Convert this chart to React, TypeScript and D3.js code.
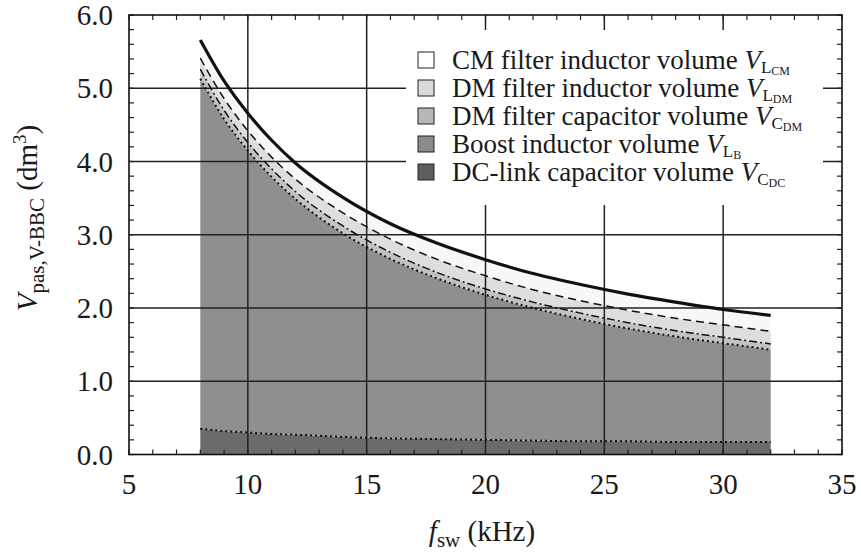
import React from 'react'
import * as d3 from 'd3'

// switching frequency (kHz) and the volume of each passive part (dm^3)
const FREQ = [8, 9, 10, 11, 12, 14, 16, 18, 20, 22, 24, 26, 28, 30, 32]
const V_CDC = [0.35, 0.32, 0.30, 0.28, 0.27, 0.24, 0.22, 0.21, 0.20, 0.19, 0.18, 0.18, 0.17, 0.17, 0.17]
const V_LB = [4.78, 4.26, 3.85, 3.51, 3.22, 2.78, 2.45, 2.19, 1.98, 1.81, 1.67, 1.54, 1.44, 1.35, 1.26]
const V_CDM = [0.13, 0.12, 0.11, 0.11, 0.10, 0.10, 0.09, 0.08, 0.08, 0.08, 0.08, 0.08, 0.08, 0.08, 0.08]
const V_LDM = [0.15, 0.16, 0.16, 0.16, 0.17, 0.18, 0.18, 0.18, 0.18, 0.17, 0.17, 0.17, 0.17, 0.17, 0.17]
const V_LCM = [0.25, 0.24, 0.24, 0.23, 0.22, 0.21, 0.21, 0.22, 0.22, 0.22, 0.22, 0.22, 0.22, 0.21, 0.22]

const X_TICKS = [5, 10, 15, 20, 25, 30, 35]
const Y_TICKS = [0, 1, 2, 3, 4, 5, 6]

// bottom to top of the stack
const LAYERS = [
  { key: 'cdc', values: V_CDC, fill: '#6b6b6b', swatch: '#5e5e5e', dash: '2,3', width: 2, text: 'DC-link capacitor volume ', sub: 'C', subsub: 'DC' },
  { key: 'lb', values: V_LB, fill: '#8f8f8f', swatch: '#8a8a8a', dash: '2,3', width: 2, text: 'Boost inductor volume ', sub: 'L', subsub: 'B' },
  { key: 'cdm', values: V_CDM, fill: '#c2c2c2', swatch: '#b8b8b8', dash: '8,3,2,3', width: 1.5, text: 'DM filter capacitor volume ', sub: 'C', subsub: 'DM' },
  { key: 'ldm', values: V_LDM, fill: '#dedede', swatch: '#dadada', dash: '8,5', width: 1.5, text: 'DM filter inductor volume ', sub: 'L', subsub: 'DM' },
  { key: 'lcm', values: V_LCM, fill: '#f8f8f8', swatch: '#ffffff', dash: '', width: 3.2, text: 'CM filter inductor volume ', sub: 'L', subsub: 'CM' }
]

const W = 861
const H = 555
const M = { left: 129, right: 842, top: 15, bottom: 454.5 }
const FONT = '"Times New Roman", "Liberation Serif", Times, "DejaVu Serif", serif'
const INK = '#1a1a1a'

export default function App() {
  const x = d3.scaleLinear().domain([5, 35]).range([M.left, M.right])
  const y = d3.scaleLinear().domain([0, 6]).range([M.bottom, M.top])

  const rows = FREQ.map((f, i) => {
    const r: Record<string, number> = { f }
    LAYERS.forEach(l => { r[l.key] = l.values[i] })
    return r
  })
  const stacked = d3.stack<Record<string, number>>().keys(LAYERS.map(l => l.key))(rows)

  const area = d3.area<d3.SeriesPoint<Record<string, number>>>()
    .x(d => x(d.data.f))
    .y0(d => y(d[0]))
    .y1(d => y(d[1]))
    .curve(d3.curveMonotoneX)
  const line = d3.line<d3.SeriesPoint<Record<string, number>>>()
    .x(d => x(d.data.f))
    .y(d => y(d[1]))
    .curve(d3.curveMonotoneX)

  const minorX = d3.range(5, 35.01, 1)
  const minorY = d3.range(0, 6.001, 0.2)

  return (
    <svg width={W} height={H} style={{ position: 'absolute', left: 0, top: 0, background: '#fff', fontFamily: FONT }}>
      {/* stacked areas */}
      {stacked.map((s, i) => (
        <path key={s.key} d={area(s) || ''} fill={LAYERS[i].fill} />
      ))}

      {/* grid */}
      {X_TICKS.slice(1, -1).map(t => (
        <line key={'gx' + t} x1={x(t)} x2={x(t)} y1={M.top} y2={M.bottom} stroke="#222" strokeWidth={1.5} />
      ))}
      {Y_TICKS.slice(1, -1).map(t => (
        <line key={'gy' + t} x1={M.left} x2={M.right} y1={y(t)} y2={y(t)} stroke="#222" strokeWidth={1.5} />
      ))}

      {/* layer boundaries */}
      {stacked.map((s, i) => (
        <path key={'l' + s.key} d={line(s) || ''} fill="none" stroke="#111"
          strokeWidth={LAYERS[i].width} strokeDasharray={LAYERS[i].dash || undefined} />
      ))}

      {/* minor ticks, all four sides */}
      {minorX.map(t => (
        <g key={'tx' + t}>
          <line x1={x(t)} x2={x(t)} y1={M.bottom} y2={M.bottom - 5} stroke="#222" strokeWidth={1.2} />
          <line x1={x(t)} x2={x(t)} y1={M.top} y2={M.top + 5} stroke="#222" strokeWidth={1.2} />
        </g>
      ))}
      {minorY.map(t => (
        <g key={'ty' + t}>
          <line x1={M.left} x2={M.left + 5} y1={y(t)} y2={y(t)} stroke="#222" strokeWidth={1.2} />
          <line x1={M.right} x2={M.right - 5} y1={y(t)} y2={y(t)} stroke="#222" strokeWidth={1.2} />
        </g>
      ))}

      {/* frame */}
      <rect x={M.left} y={M.top} width={M.right - M.left} height={M.bottom - M.top} fill="none" stroke="#111" strokeWidth={1.6} />

      {/* tick labels */}
      {X_TICKS.map(t => (
        <text key={'lx' + t} x={x(t)} y={494} textAnchor="middle" fontSize={29} fill={INK}>{t}</text>
      ))}
      {Y_TICKS.map(t => (
        <text key={'ly' + t} x={113} y={y(t) + 10} textAnchor="end" fontSize={29} fill={INK}>{d3.format('.1f')(t)}</text>
      ))}

      {/* axis titles */}
      <text x={482} y={541} textAnchor="middle" fontSize={29} fill={INK}>
        <tspan fontStyle="italic">f</tspan>
        <tspan fontSize={21} dy={6}>sw</tspan>
        <tspan dy={-6}> (kHz)</tspan>
      </text>
      <text transform="translate(37,218) rotate(-90)" textAnchor="middle" fontSize={29} fill={INK}>
        <tspan fontStyle="italic">V</tspan>
        <tspan fontSize={21} dy={7}>pas,V-BBC</tspan>
        <tspan dy={-7}> (dm</tspan>
        <tspan fontSize={19} dy={-11}>3</tspan>
        <tspan dy={11}>)</tspan>
      </text>

      {/* legend */}
      <rect x={406} y={30} width={417} height={175} fill="#fff" />
      {LAYERS.slice().reverse().map((l, i) => {
        const cy = 60 + i * 28
        return (
          <g key={'lg' + l.key}>
            <rect x={418} y={cy - 8} width={16} height={16} fill={l.swatch} stroke="#222" strokeWidth={1} />
            <text x={452} y={cy + 9} fontSize={27} fill={INK}>
              <tspan>{l.text}</tspan>
              <tspan fontStyle="italic">V</tspan>
              <tspan fontSize={17} dy={4}>{l.sub}</tspan>
              <tspan fontSize={12} dy={2}>{l.subsub}</tspan>
            </text>
          </g>
        )
      })}
    </svg>
  )
}
